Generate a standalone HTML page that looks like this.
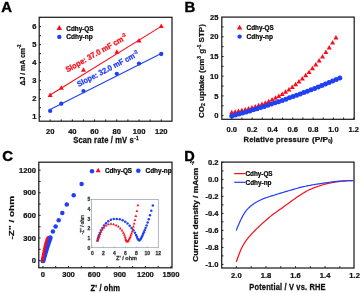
<!DOCTYPE html>
<html><head><meta charset="utf-8"><style>
html,body{margin:0;padding:0;background:#fff;overflow:hidden;width:361px;height:293px;}
svg{display:block;filter:blur(0.25px);}
text{font-family:"Liberation Sans", sans-serif;}
</style></head><body>
<svg width="361" height="293" viewBox="0 0 361 293">
<rect width="361" height="293" fill="#fff"/>
<text font-size="14.9" text-anchor="start" fill="#000" font-weight="bold" transform="translate(1.3 11.8)" stroke="#000" stroke-width="0.4">A</text>
<rect x="39.2" y="17.3" width="132.8" height="103.9" fill="none" stroke="#1e1e1e" stroke-width="1.25"/>
<line x1="50.15" y1="121.2" x2="50.15" y2="119.4" stroke="#1e1e1e" stroke-width="1"/>
<line x1="61.26" y1="121.2" x2="61.26" y2="119.4" stroke="#1e1e1e" stroke-width="1"/>
<line x1="72.37" y1="121.2" x2="72.37" y2="119.4" stroke="#1e1e1e" stroke-width="1"/>
<line x1="83.48" y1="121.2" x2="83.48" y2="119.4" stroke="#1e1e1e" stroke-width="1"/>
<line x1="94.59" y1="121.2" x2="94.59" y2="119.4" stroke="#1e1e1e" stroke-width="1"/>
<line x1="105.7" y1="121.2" x2="105.7" y2="119.4" stroke="#1e1e1e" stroke-width="1"/>
<line x1="116.81" y1="121.2" x2="116.81" y2="119.4" stroke="#1e1e1e" stroke-width="1"/>
<line x1="127.92" y1="121.2" x2="127.92" y2="119.4" stroke="#1e1e1e" stroke-width="1"/>
<line x1="139.03" y1="121.2" x2="139.03" y2="119.4" stroke="#1e1e1e" stroke-width="1"/>
<line x1="150.14" y1="121.2" x2="150.14" y2="119.4" stroke="#1e1e1e" stroke-width="1"/>
<line x1="161.25" y1="121.2" x2="161.25" y2="119.4" stroke="#1e1e1e" stroke-width="1"/>
<text font-size="7.6" text-anchor="middle" fill="#111" font-weight="bold" transform="translate(50.15 133.7) scale(1 1.02)" stroke="#111" stroke-width="0.24">20</text>
<text font-size="7.6" text-anchor="middle" fill="#111" font-weight="bold" transform="translate(72.37 133.7) scale(1 1.02)" stroke="#111" stroke-width="0.24">40</text>
<text font-size="7.6" text-anchor="middle" fill="#111" font-weight="bold" transform="translate(94.59 133.7) scale(1 1.02)" stroke="#111" stroke-width="0.24">60</text>
<text font-size="7.6" text-anchor="middle" fill="#111" font-weight="bold" transform="translate(116.81 133.7) scale(1 1.02)" stroke="#111" stroke-width="0.24">80</text>
<text font-size="7.6" text-anchor="middle" fill="#111" font-weight="bold" transform="translate(139.03 133.7) scale(1 1.02)" stroke="#111" stroke-width="0.24">100</text>
<text font-size="7.6" text-anchor="middle" fill="#111" font-weight="bold" transform="translate(161.25 133.7) scale(1 1.02)" stroke="#111" stroke-width="0.24">120</text>
<line x1="39.2" y1="116.7" x2="41" y2="116.7" stroke="#1e1e1e" stroke-width="1"/>
<line x1="39.2" y1="107.69" x2="41" y2="107.69" stroke="#1e1e1e" stroke-width="1"/>
<line x1="39.2" y1="98.68" x2="41" y2="98.68" stroke="#1e1e1e" stroke-width="1"/>
<line x1="39.2" y1="89.67" x2="41" y2="89.67" stroke="#1e1e1e" stroke-width="1"/>
<line x1="39.2" y1="80.66" x2="41" y2="80.66" stroke="#1e1e1e" stroke-width="1"/>
<line x1="39.2" y1="71.65" x2="41" y2="71.65" stroke="#1e1e1e" stroke-width="1"/>
<line x1="39.2" y1="62.64" x2="41" y2="62.64" stroke="#1e1e1e" stroke-width="1"/>
<line x1="39.2" y1="53.63" x2="41" y2="53.63" stroke="#1e1e1e" stroke-width="1"/>
<line x1="39.2" y1="44.62" x2="41" y2="44.62" stroke="#1e1e1e" stroke-width="1"/>
<line x1="39.2" y1="35.61" x2="41" y2="35.61" stroke="#1e1e1e" stroke-width="1"/>
<line x1="39.2" y1="26.6" x2="41" y2="26.6" stroke="#1e1e1e" stroke-width="1"/>
<line x1="39.2" y1="17.59" x2="41" y2="17.59" stroke="#1e1e1e" stroke-width="1"/>
<text font-size="7.6" text-anchor="end" fill="#111" font-weight="bold" transform="translate(36.4 119.3) scale(1 1.02)" stroke="#111" stroke-width="0.24">1</text>
<text font-size="7.6" text-anchor="end" fill="#111" font-weight="bold" transform="translate(36.4 101.28) scale(1 1.02)" stroke="#111" stroke-width="0.24">2</text>
<text font-size="7.6" text-anchor="end" fill="#111" font-weight="bold" transform="translate(36.4 83.26) scale(1 1.02)" stroke="#111" stroke-width="0.24">3</text>
<text font-size="7.6" text-anchor="end" fill="#111" font-weight="bold" transform="translate(36.4 65.24) scale(1 1.02)" stroke="#111" stroke-width="0.24">4</text>
<text font-size="7.6" text-anchor="end" fill="#111" font-weight="bold" transform="translate(36.4 47.22) scale(1 1.02)" stroke="#111" stroke-width="0.24">5</text>
<text font-size="7.6" text-anchor="end" fill="#111" font-weight="bold" transform="translate(36.4 29.2) scale(1 1.02)" stroke="#111" stroke-width="0.24">6</text>
<text font-size="7.6" text-anchor="start" fill="#111" font-weight="bold" transform="translate(73.2 143.4) scale(1 1.1)" textLength="60.5" lengthAdjust="spacing" stroke="#111" stroke-width="0.24">Scan rate / mV s</text>
<text font-size="4.8" text-anchor="start" fill="#111" font-weight="bold" transform="translate(134.3 139.6) scale(1 1.08)" stroke="#111" stroke-width="0.24">-1</text>
<text font-size="7.2" text-anchor="start" fill="#111" font-weight="bold" transform="translate(25.4 85.5) rotate(-90) scale(1 1.08)" textLength="37.5" lengthAdjust="spacingAndGlyphs" stroke="#111" stroke-width="0.24">&#916;J / mA cm</text>
<text font-size="4.6" text-anchor="start" fill="#111" font-weight="bold" transform="translate(20.8 48.6) rotate(-90) scale(1 1.08)" stroke="#111" stroke-width="0.24">-2</text>
<polyline points="50.15,95 161.25,26.4" fill="none" stroke="#fc0c18" stroke-width="1.1" stroke-linejoin="round" stroke-linecap="round"/>
<polyline points="50.15,109.5 161.25,53.6" fill="none" stroke="#2040f4" stroke-width="1.1" stroke-linejoin="round" stroke-linecap="round"/>
<path d="M50.15 92.38L52.65 96.88L47.65 96.88Z" fill="#fc0c18"/>
<path d="M61.26 85.17L63.76 89.67L58.76 89.67Z" fill="#fc0c18"/>
<path d="M83.48 67.15L85.98 71.65L80.98 71.65Z" fill="#fc0c18"/>
<path d="M116.81 49.13L119.31 53.63L114.31 53.63Z" fill="#fc0c18"/>
<path d="M139.03 37.96L141.53 42.46L136.53 42.46Z" fill="#fc0c18"/>
<path d="M161.25 23.54L163.75 28.04L158.75 28.04Z" fill="#fc0c18"/>
<circle cx="50.15" cy="110.93" r="2.15" fill="#2040f4"/>
<circle cx="61.26" cy="103.73" r="2.15" fill="#2040f4"/>
<circle cx="83.48" cy="91.11" r="2.15" fill="#2040f4"/>
<circle cx="116.81" cy="73.81" r="2.15" fill="#2040f4"/>
<circle cx="139.03" cy="63.54" r="2.15" fill="#2040f4"/>
<circle cx="161.25" cy="53.99" r="2.15" fill="#2040f4"/>
<path d="M59.3 24.93L62.05 29.88L56.55 29.88Z" fill="#fc0c18"/>
<text font-size="7.5" text-anchor="start" fill="#000" font-weight="bold" transform="translate(66.3 30.5)" textLength="27.2" lengthAdjust="spacingAndGlyphs" stroke="#000" stroke-width="0.24">Cdhy-QS</text>
<circle cx="59.3" cy="36.9" r="2.2" fill="#2040f4"/>
<text font-size="7.5" text-anchor="start" fill="#000" font-weight="bold" transform="translate(66.3 39.2)" textLength="26.4" lengthAdjust="spacingAndGlyphs" stroke="#000" stroke-width="0.24">Cdhy-np</text>
<text font-size="7.4" text-anchor="middle" fill="#fc0c18" font-weight="bold" transform="translate(97.6 55.6) rotate(-29.5) scale(1 1.08)" stroke="#fc0c18" stroke-width="0.24">Slope: 37.0 mF cm<tspan font-size="4.8" dy="-3">-2</tspan></text>
<text font-size="7.3" text-anchor="middle" fill="#2040f4" font-weight="bold" transform="translate(109 71.3) rotate(-27.5) scale(1 1.08)" stroke="#2040f4" stroke-width="0.24">Slope: 32.0 mF cm<tspan font-size="4.8" dy="-3">-2</tspan></text>
<text font-size="14.9" text-anchor="start" fill="#000" font-weight="bold" transform="translate(184.4 11.7)" stroke="#000" stroke-width="0.4">B</text>
<rect x="221.8" y="17.1" width="132.4" height="102.2" fill="none" stroke="#1e1e1e" stroke-width="1.25"/>
<line x1="231.75" y1="119.3" x2="231.75" y2="117.5" stroke="#1e1e1e" stroke-width="1"/>
<line x1="241.92" y1="119.3" x2="241.92" y2="117.5" stroke="#1e1e1e" stroke-width="1"/>
<line x1="252.08" y1="119.3" x2="252.08" y2="117.5" stroke="#1e1e1e" stroke-width="1"/>
<line x1="262.25" y1="119.3" x2="262.25" y2="117.5" stroke="#1e1e1e" stroke-width="1"/>
<line x1="272.42" y1="119.3" x2="272.42" y2="117.5" stroke="#1e1e1e" stroke-width="1"/>
<line x1="282.58" y1="119.3" x2="282.58" y2="117.5" stroke="#1e1e1e" stroke-width="1"/>
<line x1="292.75" y1="119.3" x2="292.75" y2="117.5" stroke="#1e1e1e" stroke-width="1"/>
<line x1="302.92" y1="119.3" x2="302.92" y2="117.5" stroke="#1e1e1e" stroke-width="1"/>
<line x1="313.09" y1="119.3" x2="313.09" y2="117.5" stroke="#1e1e1e" stroke-width="1"/>
<line x1="323.25" y1="119.3" x2="323.25" y2="117.5" stroke="#1e1e1e" stroke-width="1"/>
<line x1="333.42" y1="119.3" x2="333.42" y2="117.5" stroke="#1e1e1e" stroke-width="1"/>
<line x1="343.59" y1="119.3" x2="343.59" y2="117.5" stroke="#1e1e1e" stroke-width="1"/>
<line x1="353.75" y1="119.3" x2="353.75" y2="117.5" stroke="#1e1e1e" stroke-width="1"/>
<text font-size="7.6" text-anchor="middle" fill="#111" font-weight="bold" transform="translate(231.75 131.8) scale(1 1.02)" stroke="#111" stroke-width="0.24">0.0</text>
<text font-size="7.6" text-anchor="middle" fill="#111" font-weight="bold" transform="translate(252.08 131.8) scale(1 1.02)" stroke="#111" stroke-width="0.24">0.2</text>
<text font-size="7.6" text-anchor="middle" fill="#111" font-weight="bold" transform="translate(272.42 131.8) scale(1 1.02)" stroke="#111" stroke-width="0.24">0.4</text>
<text font-size="7.6" text-anchor="middle" fill="#111" font-weight="bold" transform="translate(292.75 131.8) scale(1 1.02)" stroke="#111" stroke-width="0.24">0.6</text>
<text font-size="7.6" text-anchor="middle" fill="#111" font-weight="bold" transform="translate(313.09 131.8) scale(1 1.02)" stroke="#111" stroke-width="0.24">0.8</text>
<text font-size="7.6" text-anchor="middle" fill="#111" font-weight="bold" transform="translate(333.42 131.8) scale(1 1.02)" stroke="#111" stroke-width="0.24">1.0</text>
<text font-size="7.6" text-anchor="middle" fill="#111" font-weight="bold" transform="translate(353.75 131.8) scale(1 1.02)" stroke="#111" stroke-width="0.24">1.2</text>
<line x1="221.8" y1="115.6" x2="223.6" y2="115.6" stroke="#1e1e1e" stroke-width="1"/>
<line x1="221.8" y1="105.75" x2="223.6" y2="105.75" stroke="#1e1e1e" stroke-width="1"/>
<line x1="221.8" y1="95.9" x2="223.6" y2="95.9" stroke="#1e1e1e" stroke-width="1"/>
<line x1="221.8" y1="86.05" x2="223.6" y2="86.05" stroke="#1e1e1e" stroke-width="1"/>
<line x1="221.8" y1="76.2" x2="223.6" y2="76.2" stroke="#1e1e1e" stroke-width="1"/>
<line x1="221.8" y1="66.35" x2="223.6" y2="66.35" stroke="#1e1e1e" stroke-width="1"/>
<line x1="221.8" y1="56.5" x2="223.6" y2="56.5" stroke="#1e1e1e" stroke-width="1"/>
<line x1="221.8" y1="46.65" x2="223.6" y2="46.65" stroke="#1e1e1e" stroke-width="1"/>
<line x1="221.8" y1="36.8" x2="223.6" y2="36.8" stroke="#1e1e1e" stroke-width="1"/>
<line x1="221.8" y1="26.95" x2="223.6" y2="26.95" stroke="#1e1e1e" stroke-width="1"/>
<text font-size="7.6" text-anchor="end" fill="#111" font-weight="bold" transform="translate(218.5 118.2) scale(1 1.02)" stroke="#111" stroke-width="0.24">0</text>
<text font-size="7.6" text-anchor="end" fill="#111" font-weight="bold" transform="translate(218.5 98.5) scale(1 1.02)" stroke="#111" stroke-width="0.24">5</text>
<text font-size="7.6" text-anchor="end" fill="#111" font-weight="bold" transform="translate(218.5 78.8) scale(1 1.02)" stroke="#111" stroke-width="0.24">10</text>
<text font-size="7.6" text-anchor="end" fill="#111" font-weight="bold" transform="translate(218.5 59.1) scale(1 1.02)" stroke="#111" stroke-width="0.24">15</text>
<text font-size="7.6" text-anchor="end" fill="#111" font-weight="bold" transform="translate(218.5 39.4) scale(1 1.02)" stroke="#111" stroke-width="0.24">20</text>
<text font-size="7.6" text-anchor="end" fill="#111" font-weight="bold" transform="translate(218.5 19.7) scale(1 1.02)" stroke="#111" stroke-width="0.24">25</text>
<text font-size="7.6" text-anchor="start" fill="#111" font-weight="bold" transform="translate(243.6 142.2) scale(1 1.05)" textLength="65.4" lengthAdjust="spacing" stroke="#111" stroke-width="0.24">Relative pressure</text>
<text font-size="6.3" text-anchor="start" fill="#111" font-weight="bold" transform="translate(312 142)" textLength="16" lengthAdjust="spacingAndGlyphs" stroke="#111" stroke-width="0.24">(P/P</text>
<text font-size="4.5" text-anchor="start" fill="#111" font-weight="bold" transform="translate(328.2 143)" stroke="#111" stroke-width="0.24">0</text>
<text font-size="6.3" text-anchor="start" fill="#111" font-weight="bold" transform="translate(330.6 142)" stroke="#111" stroke-width="0.24">)</text>
<text font-size="8" text-anchor="start" fill="#111" font-weight="bold" transform="translate(203.8 118) rotate(-90) scale(1 0.95)" stroke="#111" stroke-width="0.24">CO<tspan font-size="5.2" dy="1.5">2</tspan><tspan dy="-1.5"> uptake (cm</tspan><tspan font-size="4.8" dy="-3">3</tspan><tspan dy="3"> g</tspan><tspan font-size="4.8" dy="-3">-1</tspan><tspan dy="3"> STP)</tspan></text>
<path d="M231.75 109.78L234.25 114.28L229.25 114.28Z" fill="#fc0c18"/>
<path d="M235.11 109.17L237.61 113.67L232.61 113.67Z" fill="#fc0c18"/>
<path d="M238.47 108.51L240.97 113.01L235.97 113.01Z" fill="#fc0c18"/>
<path d="M241.84 107.77L244.34 112.27L239.34 112.27Z" fill="#fc0c18"/>
<path d="M245.2 106.96L247.7 111.46L242.7 111.46Z" fill="#fc0c18"/>
<path d="M248.56 106.07L251.06 110.57L246.06 110.57Z" fill="#fc0c18"/>
<path d="M251.92 105.09L254.42 109.59L249.42 109.59Z" fill="#fc0c18"/>
<path d="M255.28 104.02L257.78 108.52L252.78 108.52Z" fill="#fc0c18"/>
<path d="M258.64 102.85L261.14 107.35L256.14 107.35Z" fill="#fc0c18"/>
<path d="M262.01 101.57L264.51 106.07L259.51 106.07Z" fill="#fc0c18"/>
<path d="M265.37 100.19L267.87 104.69L262.87 104.69Z" fill="#fc0c18"/>
<path d="M268.73 98.68L271.23 103.18L266.23 103.18Z" fill="#fc0c18"/>
<path d="M272.09 97.06L274.59 101.56L269.59 101.56Z" fill="#fc0c18"/>
<path d="M275.45 95.31L277.95 99.81L272.95 99.81Z" fill="#fc0c18"/>
<path d="M278.81 93.42L281.31 97.92L276.31 97.92Z" fill="#fc0c18"/>
<path d="M282.18 91.39L284.68 95.89L279.68 95.89Z" fill="#fc0c18"/>
<path d="M285.54 89.22L288.04 93.72L283.04 93.72Z" fill="#fc0c18"/>
<path d="M288.9 86.89L291.4 91.39L286.4 91.39Z" fill="#fc0c18"/>
<path d="M292.26 84.41L294.76 88.91L289.76 88.91Z" fill="#fc0c18"/>
<path d="M295.62 81.76L298.12 86.26L293.12 86.26Z" fill="#fc0c18"/>
<path d="M298.98 78.94L301.48 83.44L296.48 83.44Z" fill="#fc0c18"/>
<path d="M302.35 75.95L304.85 80.45L299.85 80.45Z" fill="#fc0c18"/>
<path d="M305.71 72.77L308.21 77.27L303.21 77.27Z" fill="#fc0c18"/>
<path d="M309.07 69.4L311.57 73.9L306.57 73.9Z" fill="#fc0c18"/>
<path d="M312.43 65.84L314.93 70.34L309.93 70.34Z" fill="#fc0c18"/>
<path d="M315.79 62.08L318.29 66.58L313.29 66.58Z" fill="#fc0c18"/>
<path d="M319.15 58.11L321.65 62.61L316.65 62.61Z" fill="#fc0c18"/>
<path d="M322.52 53.93L325.02 58.43L320.02 58.43Z" fill="#fc0c18"/>
<path d="M325.88 49.54L328.38 54.04L323.38 54.04Z" fill="#fc0c18"/>
<path d="M329.24 44.91L331.74 49.41L326.74 49.41Z" fill="#fc0c18"/>
<path d="M332.6 40.06L335.1 44.56L330.1 44.56Z" fill="#fc0c18"/>
<path d="M335.96 34.97L338.46 39.47L333.46 39.47Z" fill="#fc0c18"/>
<circle cx="231.75" cy="116.07" r="2.5" fill="#2040f4"/>
<circle cx="235.35" cy="115.07" r="2.5" fill="#2040f4"/>
<circle cx="238.96" cy="114.05" r="2.5" fill="#2040f4"/>
<circle cx="242.56" cy="113.02" r="2.5" fill="#2040f4"/>
<circle cx="246.16" cy="111.96" r="2.5" fill="#2040f4"/>
<circle cx="249.76" cy="110.89" r="2.5" fill="#2040f4"/>
<circle cx="253.37" cy="109.79" r="2.5" fill="#2040f4"/>
<circle cx="256.97" cy="108.68" r="2.5" fill="#2040f4"/>
<circle cx="260.57" cy="107.55" r="2.5" fill="#2040f4"/>
<circle cx="264.17" cy="106.41" r="2.5" fill="#2040f4"/>
<circle cx="267.78" cy="105.24" r="2.5" fill="#2040f4"/>
<circle cx="271.38" cy="104.05" r="2.5" fill="#2040f4"/>
<circle cx="274.98" cy="102.85" r="2.5" fill="#2040f4"/>
<circle cx="278.58" cy="101.63" r="2.5" fill="#2040f4"/>
<circle cx="282.19" cy="100.39" r="2.5" fill="#2040f4"/>
<circle cx="285.79" cy="99.13" r="2.5" fill="#2040f4"/>
<circle cx="289.39" cy="97.85" r="2.5" fill="#2040f4"/>
<circle cx="292.99" cy="96.55" r="2.5" fill="#2040f4"/>
<circle cx="296.6" cy="95.24" r="2.5" fill="#2040f4"/>
<circle cx="300.2" cy="93.9" r="2.5" fill="#2040f4"/>
<circle cx="303.8" cy="92.55" r="2.5" fill="#2040f4"/>
<circle cx="307.4" cy="91.18" r="2.5" fill="#2040f4"/>
<circle cx="311.01" cy="89.79" r="2.5" fill="#2040f4"/>
<circle cx="314.61" cy="88.38" r="2.5" fill="#2040f4"/>
<circle cx="318.21" cy="86.96" r="2.5" fill="#2040f4"/>
<circle cx="321.81" cy="85.51" r="2.5" fill="#2040f4"/>
<circle cx="325.42" cy="84.05" r="2.5" fill="#2040f4"/>
<circle cx="329.02" cy="82.57" r="2.5" fill="#2040f4"/>
<circle cx="332.62" cy="81.06" r="2.5" fill="#2040f4"/>
<circle cx="336.22" cy="79.55" r="2.5" fill="#2040f4"/>
<circle cx="339.83" cy="78.01" r="2.5" fill="#2040f4"/>
<path d="M239.6 24.63L242.35 29.58L236.85 29.58Z" fill="#fc0c18"/>
<text font-size="7.5" text-anchor="start" fill="#000" font-weight="bold" transform="translate(246.6 30.1)" textLength="27.2" lengthAdjust="spacingAndGlyphs" stroke="#000" stroke-width="0.24">Cdhy-QS</text>
<circle cx="239.6" cy="36.6" r="2.2" fill="#2040f4"/>
<text font-size="7.5" text-anchor="start" fill="#000" font-weight="bold" transform="translate(246.6 38.9)" textLength="26.4" lengthAdjust="spacingAndGlyphs" stroke="#000" stroke-width="0.24">Cdhy-np</text>
<text font-size="14.9" text-anchor="start" fill="#000" font-weight="bold" transform="translate(2.3 160.5)" stroke="#000" stroke-width="0.4">C</text>
<rect x="38.8" y="162.2" width="133.2" height="105.6" fill="none" stroke="#1e1e1e" stroke-width="1.25"/>
<line x1="42.9" y1="267.8" x2="42.9" y2="266" stroke="#1e1e1e" stroke-width="1"/>
<line x1="55.71" y1="267.8" x2="55.71" y2="266" stroke="#1e1e1e" stroke-width="1"/>
<line x1="68.52" y1="267.8" x2="68.52" y2="266" stroke="#1e1e1e" stroke-width="1"/>
<line x1="81.33" y1="267.8" x2="81.33" y2="266" stroke="#1e1e1e" stroke-width="1"/>
<line x1="94.14" y1="267.8" x2="94.14" y2="266" stroke="#1e1e1e" stroke-width="1"/>
<line x1="106.95" y1="267.8" x2="106.95" y2="266" stroke="#1e1e1e" stroke-width="1"/>
<line x1="119.76" y1="267.8" x2="119.76" y2="266" stroke="#1e1e1e" stroke-width="1"/>
<line x1="132.57" y1="267.8" x2="132.57" y2="266" stroke="#1e1e1e" stroke-width="1"/>
<line x1="145.38" y1="267.8" x2="145.38" y2="266" stroke="#1e1e1e" stroke-width="1"/>
<line x1="158.19" y1="267.8" x2="158.19" y2="266" stroke="#1e1e1e" stroke-width="1"/>
<line x1="171" y1="267.8" x2="171" y2="266" stroke="#1e1e1e" stroke-width="1"/>
<text font-size="7.6" text-anchor="middle" fill="#111" font-weight="bold" transform="translate(42.9 277.4) scale(1 1.02)" stroke="#111" stroke-width="0.24">0</text>
<text font-size="7.6" text-anchor="middle" fill="#111" font-weight="bold" transform="translate(68.52 277.4) scale(1 1.02)" stroke="#111" stroke-width="0.24">300</text>
<text font-size="7.6" text-anchor="middle" fill="#111" font-weight="bold" transform="translate(94.14 277.4) scale(1 1.02)" stroke="#111" stroke-width="0.24">600</text>
<text font-size="7.6" text-anchor="middle" fill="#111" font-weight="bold" transform="translate(119.76 277.4) scale(1 1.02)" stroke="#111" stroke-width="0.24">900</text>
<text font-size="7.6" text-anchor="middle" fill="#111" font-weight="bold" transform="translate(145.38 277.4) scale(1 1.02)" stroke="#111" stroke-width="0.24">1200</text>
<text font-size="7.6" text-anchor="middle" fill="#111" font-weight="bold" transform="translate(171 277.4) scale(1 1.02)" stroke="#111" stroke-width="0.24">1500</text>
<line x1="38.8" y1="260.6" x2="40.6" y2="260.6" stroke="#1e1e1e" stroke-width="1"/>
<line x1="38.8" y1="249.3" x2="40.6" y2="249.3" stroke="#1e1e1e" stroke-width="1"/>
<line x1="38.8" y1="238" x2="40.6" y2="238" stroke="#1e1e1e" stroke-width="1"/>
<line x1="38.8" y1="226.7" x2="40.6" y2="226.7" stroke="#1e1e1e" stroke-width="1"/>
<line x1="38.8" y1="215.4" x2="40.6" y2="215.4" stroke="#1e1e1e" stroke-width="1"/>
<line x1="38.8" y1="204.1" x2="40.6" y2="204.1" stroke="#1e1e1e" stroke-width="1"/>
<line x1="38.8" y1="192.8" x2="40.6" y2="192.8" stroke="#1e1e1e" stroke-width="1"/>
<line x1="38.8" y1="181.5" x2="40.6" y2="181.5" stroke="#1e1e1e" stroke-width="1"/>
<line x1="38.8" y1="170.2" x2="40.6" y2="170.2" stroke="#1e1e1e" stroke-width="1"/>
<text font-size="7.6" text-anchor="end" fill="#111" font-weight="bold" transform="translate(36 263.2) scale(1 1.02)" stroke="#111" stroke-width="0.24">0</text>
<text font-size="7.6" text-anchor="end" fill="#111" font-weight="bold" transform="translate(36 240.6) scale(1 1.02)" stroke="#111" stroke-width="0.24">300</text>
<text font-size="7.6" text-anchor="end" fill="#111" font-weight="bold" transform="translate(36 218) scale(1 1.02)" stroke="#111" stroke-width="0.24">600</text>
<text font-size="7.6" text-anchor="end" fill="#111" font-weight="bold" transform="translate(36 195.4) scale(1 1.02)" stroke="#111" stroke-width="0.24">900</text>
<text font-size="7.6" text-anchor="end" fill="#111" font-weight="bold" transform="translate(36 172.8) scale(1 1.02)" stroke="#111" stroke-width="0.24">1200</text>
<text font-size="7.6" text-anchor="start" fill="#111" font-weight="bold" transform="translate(90.6 290.9) scale(1 1.1)" textLength="29.5" lengthAdjust="spacing" stroke="#111" stroke-width="0.24">Z' / ohm</text>
<text font-size="8.1" text-anchor="start" fill="#111" font-weight="bold" transform="translate(13.8 239.5) rotate(-90) scale(1 0.86)" textLength="43.5" lengthAdjust="spacingAndGlyphs" stroke="#111" stroke-width="0.24">-Z'' / ohm</text>
<circle cx="43" cy="260.8" r="2.5" fill="#2040f4"/>
<circle cx="43.58" cy="258.68" r="2.5" fill="#2040f4"/>
<circle cx="44.18" cy="256.56" r="2.5" fill="#2040f4"/>
<circle cx="44.78" cy="254.45" r="2.5" fill="#2040f4"/>
<circle cx="45.4" cy="252.33" r="2.5" fill="#2040f4"/>
<circle cx="46.03" cy="250.23" r="2.5" fill="#2040f4"/>
<circle cx="46.68" cy="248.12" r="2.5" fill="#2040f4"/>
<circle cx="47.34" cy="246.03" r="2.5" fill="#2040f4"/>
<circle cx="48.02" cy="243.93" r="2.5" fill="#2040f4"/>
<circle cx="48.72" cy="241.85" r="2.5" fill="#2040f4"/>
<circle cx="49.44" cy="239.77" r="2.5" fill="#2040f4"/>
<circle cx="50.18" cy="237.7" r="2.5" fill="#2040f4"/>
<circle cx="52.9" cy="231.5" r="2.25" fill="#2040f4"/>
<circle cx="55.6" cy="226.6" r="2.25" fill="#2040f4"/>
<circle cx="58.7" cy="220.3" r="2.25" fill="#2040f4"/>
<circle cx="62.3" cy="213.1" r="2.25" fill="#2040f4"/>
<circle cx="66.8" cy="204.5" r="2.25" fill="#2040f4"/>
<circle cx="73.7" cy="195.3" r="2.25" fill="#2040f4"/>
<circle cx="81.6" cy="184.1" r="2.25" fill="#2040f4"/>
<circle cx="92" cy="171.3" r="2.25" fill="#2040f4"/>
<path d="M42.5 258.46L44.3 261.7L40.7 261.7Z" fill="#fc0c18"/>
<path d="M42.73 256.67L44.53 259.91L40.93 259.91Z" fill="#fc0c18"/>
<path d="M42.96 254.89L44.76 258.13L41.16 258.13Z" fill="#fc0c18"/>
<path d="M43.2 253.1L45 256.34L41.4 256.34Z" fill="#fc0c18"/>
<path d="M43.46 251.32L45.26 254.56L41.66 254.56Z" fill="#fc0c18"/>
<path d="M43.74 249.54L45.54 252.78L41.94 252.78Z" fill="#fc0c18"/>
<path d="M44.05 247.77L45.85 251.01L42.25 251.01Z" fill="#fc0c18"/>
<path d="M44.39 246L46.19 249.24L42.59 249.24Z" fill="#fc0c18"/>
<path d="M44.77 244.24L46.57 247.48L42.97 247.48Z" fill="#fc0c18"/>
<path d="M45.18 242.49L46.98 245.73L43.38 245.73Z" fill="#fc0c18"/>
<path d="M45.65 240.75L47.45 243.99L43.85 243.99Z" fill="#fc0c18"/>
<path d="M46.16 239.03L47.96 242.27L44.36 242.27Z" fill="#fc0c18"/>
<path d="M46.73 237.32L48.53 240.56L44.93 240.56Z" fill="#fc0c18"/>
<path d="M47.35 235.63L49.15 238.87L45.55 238.87Z" fill="#fc0c18"/>
<path d="M98.2 167.7L100.7 172.2L95.7 172.2Z" fill="#fc0c18"/>
<text font-size="7.5" text-anchor="start" fill="#000" font-weight="bold" transform="translate(104.9 173)" textLength="27.2" lengthAdjust="spacingAndGlyphs" stroke="#000" stroke-width="0.24">Cdhy-QS</text>
<circle cx="138.3" cy="170.7" r="2.3" fill="#2040f4"/>
<text font-size="7.5" text-anchor="start" fill="#000" font-weight="bold" transform="translate(145.5 173)" textLength="26.2" lengthAdjust="spacingAndGlyphs" stroke="#000" stroke-width="0.24">Cdhy-np</text>
<rect x="91.5" y="199.5" width="66.8" height="48.2" fill="#fff" stroke="#8c9ab0" stroke-width="0.7"/>
<line x1="92.3" y1="247.7" x2="92.3" y2="246.5" stroke="#7f8fa6" stroke-width="0.6"/>
<line x1="103.3" y1="247.7" x2="103.3" y2="246.5" stroke="#7f8fa6" stroke-width="0.6"/>
<line x1="114.3" y1="247.7" x2="114.3" y2="246.5" stroke="#7f8fa6" stroke-width="0.6"/>
<line x1="125.3" y1="247.7" x2="125.3" y2="246.5" stroke="#7f8fa6" stroke-width="0.6"/>
<line x1="136.3" y1="247.7" x2="136.3" y2="246.5" stroke="#7f8fa6" stroke-width="0.6"/>
<line x1="147.3" y1="247.7" x2="147.3" y2="246.5" stroke="#7f8fa6" stroke-width="0.6"/>
<text font-size="5" text-anchor="middle" fill="#333" font-weight="bold" transform="translate(92.3 254.6) scale(1 1.08)" stroke="#333" stroke-width="0.24">0</text>
<text font-size="5" text-anchor="middle" fill="#333" font-weight="bold" transform="translate(103.3 254.6) scale(1 1.08)" stroke="#333" stroke-width="0.24">2</text>
<text font-size="5" text-anchor="middle" fill="#333" font-weight="bold" transform="translate(114.3 254.6) scale(1 1.08)" stroke="#333" stroke-width="0.24">4</text>
<text font-size="5" text-anchor="middle" fill="#333" font-weight="bold" transform="translate(125.3 254.6) scale(1 1.08)" stroke="#333" stroke-width="0.24">6</text>
<text font-size="5" text-anchor="middle" fill="#333" font-weight="bold" transform="translate(136.3 254.6) scale(1 1.08)" stroke="#333" stroke-width="0.24">8</text>
<text font-size="5" text-anchor="middle" fill="#333" font-weight="bold" transform="translate(147.3 254.6) scale(1 1.08)" stroke="#333" stroke-width="0.24">10</text>
<text font-size="5" text-anchor="middle" fill="#333" font-weight="bold" transform="translate(158.3 254.6) scale(1 1.08)" stroke="#333" stroke-width="0.24">12</text>
<text font-size="5" text-anchor="end" fill="#333" font-weight="bold" transform="translate(90.2 249.6) scale(1 1.08)" stroke="#333" stroke-width="0.24">0</text>
<text font-size="5" text-anchor="end" fill="#333" font-weight="bold" transform="translate(90.2 239.9) scale(1 1.08)" stroke="#333" stroke-width="0.24">1</text>
<text font-size="5" text-anchor="end" fill="#333" font-weight="bold" transform="translate(90.2 230.2) scale(1 1.08)" stroke="#333" stroke-width="0.24">2</text>
<text font-size="5" text-anchor="end" fill="#333" font-weight="bold" transform="translate(90.2 220.5) scale(1 1.08)" stroke="#333" stroke-width="0.24">3</text>
<text font-size="5" text-anchor="end" fill="#333" font-weight="bold" transform="translate(90.2 210.8) scale(1 1.08)" stroke="#333" stroke-width="0.24">4</text>
<text font-size="5" text-anchor="end" fill="#333" font-weight="bold" transform="translate(90.2 201.1) scale(1 1.08)" stroke="#333" stroke-width="0.24">5</text>
<text font-size="5.4" text-anchor="start" fill="#333" font-weight="bold" transform="translate(116 260.2) scale(1 1.08)" textLength="21" lengthAdjust="spacingAndGlyphs" stroke="#333" stroke-width="0.24">Z' / ohm</text>
<text font-size="5.4" text-anchor="start" fill="#333" font-weight="bold" transform="translate(84.4 234.2) rotate(-90) scale(1 1.08)" textLength="19" lengthAdjust="spacingAndGlyphs" stroke="#333" stroke-width="0.24">-Z'' / ohm</text>
<circle cx="97.5" cy="240.4" r="1.25" fill="#2040f4"/>
<circle cx="97.87" cy="238.8" r="1.25" fill="#2040f4"/>
<circle cx="98.33" cy="237.13" r="1.25" fill="#2040f4"/>
<circle cx="98.95" cy="235.21" r="1.25" fill="#2040f4"/>
<circle cx="99.8" cy="232.98" r="1.25" fill="#2040f4"/>
<circle cx="100.94" cy="230.48" r="1.25" fill="#2040f4"/>
<circle cx="102.37" cy="227.92" r="1.25" fill="#2040f4"/>
<circle cx="104.05" cy="225.44" r="1.25" fill="#2040f4"/>
<circle cx="105.97" cy="223.14" r="1.25" fill="#2040f4"/>
<circle cx="108.23" cy="221.18" r="1.25" fill="#2040f4"/>
<circle cx="110.88" cy="219.78" r="1.25" fill="#2040f4"/>
<circle cx="113.77" cy="219.03" r="1.25" fill="#2040f4"/>
<circle cx="116.77" cy="218.89" r="1.25" fill="#2040f4"/>
<circle cx="119.74" cy="219.26" r="1.25" fill="#2040f4"/>
<circle cx="122.58" cy="220.22" r="1.25" fill="#2040f4"/>
<circle cx="125.17" cy="221.72" r="1.25" fill="#2040f4"/>
<circle cx="127.52" cy="223.58" r="1.25" fill="#2040f4"/>
<circle cx="129.65" cy="225.69" r="1.25" fill="#2040f4"/>
<circle cx="131.59" cy="227.96" r="1.25" fill="#2040f4"/>
<circle cx="133.37" cy="230.3" r="1.25" fill="#2040f4"/>
<circle cx="134.9" cy="232.65" r="1.25" fill="#2040f4"/>
<circle cx="136.04" cy="234.89" r="1.25" fill="#2040f4"/>
<circle cx="136.85" cy="236.84" r="1.25" fill="#2040f4"/>
<circle cx="137.52" cy="238.44" r="1.25" fill="#2040f4"/>
<circle cx="138.23" cy="239.72" r="1.25" fill="#2040f4"/>
<circle cx="139.3" cy="240.38" r="1.25" fill="#2040f4"/>
<circle cx="140.3" cy="239.58" r="1.25" fill="#2040f4"/>
<circle cx="141.03" cy="238.42" r="1.25" fill="#2040f4"/>
<circle cx="141.71" cy="237.1" r="1.25" fill="#2040f4"/>
<circle cx="142.4" cy="235.65" r="1.25" fill="#2040f4"/>
<circle cx="143.13" cy="234.04" r="1.25" fill="#2040f4"/>
<circle cx="143.89" cy="232.25" r="1.25" fill="#2040f4"/>
<circle cx="144.71" cy="230.24" r="1.25" fill="#2040f4"/>
<circle cx="145.59" cy="227.99" r="1.25" fill="#2040f4"/>
<circle cx="146.58" cy="225.43" r="1.25" fill="#2040f4"/>
<circle cx="147.64" cy="222.52" r="1.25" fill="#2040f4"/>
<circle cx="148.78" cy="219.17" r="1.25" fill="#2040f4"/>
<circle cx="149.98" cy="215.28" r="1.25" fill="#2040f4"/>
<circle cx="151.29" cy="210.77" r="1.25" fill="#2040f4"/>
<circle cx="152.84" cy="205.52" r="1.25" fill="#2040f4"/>
<path d="M97.5 238.89L98.9 241.41L96.1 241.41Z" fill="#fc0c18"/>
<path d="M98.07 237.5L99.47 240.02L96.67 240.02Z" fill="#fc0c18"/>
<path d="M98.65 236.04L100.05 238.56L97.25 238.56Z" fill="#fc0c18"/>
<path d="M99.3 234.38L100.7 236.9L97.9 236.9Z" fill="#fc0c18"/>
<path d="M100.09 232.47L101.49 234.99L98.69 234.99Z" fill="#fc0c18"/>
<path d="M101.1 230.31L102.5 232.83L99.7 232.83Z" fill="#fc0c18"/>
<path d="M102.38 228.05L103.78 230.57L100.98 230.57Z" fill="#fc0c18"/>
<path d="M103.98 225.91L105.38 228.43L102.58 228.43Z" fill="#fc0c18"/>
<path d="M105.95 224.08L107.35 226.6L104.55 226.6Z" fill="#fc0c18"/>
<path d="M108.31 222.78L109.71 225.3L106.91 225.3Z" fill="#fc0c18"/>
<path d="M110.94 222.28L112.34 224.8L109.54 224.8Z" fill="#fc0c18"/>
<path d="M113.61 222.67L115.01 225.19L112.21 225.19Z" fill="#fc0c18"/>
<path d="M116.12 223.64L117.52 226.16L114.72 226.16Z" fill="#fc0c18"/>
<path d="M118.39 225.09L119.79 227.61L116.99 227.61Z" fill="#fc0c18"/>
<path d="M120.34 226.94L121.74 229.46L118.94 229.46Z" fill="#fc0c18"/>
<path d="M122.04 228.98L123.44 231.5L120.64 231.5Z" fill="#fc0c18"/>
<path d="M123.43 231.14L124.83 233.66L122.03 233.66Z" fill="#fc0c18"/>
<path d="M124.37 233.32L125.77 235.84L122.97 235.84Z" fill="#fc0c18"/>
<path d="M124.99 235.31L126.39 237.83L123.59 237.83Z" fill="#fc0c18"/>
<path d="M125.47 237.01L126.87 239.53L124.07 239.53Z" fill="#fc0c18"/>
<path d="M125.93 238.42L127.33 240.94L124.53 240.94Z" fill="#fc0c18"/>
<path d="M126.49 239.61L127.89 242.13L125.09 242.13Z" fill="#fc0c18"/>
<path d="M127.5 239.99L128.9 242.51L126.1 242.51Z" fill="#fc0c18"/>
<path d="M128.33 239.12L129.73 241.64L126.93 241.64Z" fill="#fc0c18"/>
<path d="M129 238.02L130.4 240.54L127.6 240.54Z" fill="#fc0c18"/>
<path d="M129.62 236.77L131.02 239.29L128.22 239.29Z" fill="#fc0c18"/>
<path d="M130.25 235.38L131.65 237.9L128.85 237.9Z" fill="#fc0c18"/>
<path d="M130.9 233.82L132.3 236.34L129.5 236.34Z" fill="#fc0c18"/>
<path d="M131.55 232.06L132.95 234.58L130.15 234.58Z" fill="#fc0c18"/>
<path d="M132.2 230.04L133.6 232.56L130.8 232.56Z" fill="#fc0c18"/>
<path d="M132.83 227.74L134.23 230.26L131.43 230.26Z" fill="#fc0c18"/>
<path d="M133.47 225.08L134.87 227.6L132.07 227.6Z" fill="#fc0c18"/>
<path d="M134.16 222.02L135.56 224.54L132.76 224.54Z" fill="#fc0c18"/>
<path d="M134.95 218.49L136.35 221.01L133.55 221.01Z" fill="#fc0c18"/>
<path d="M135.89 214.38L137.29 216.9L134.49 216.9Z" fill="#fc0c18"/>
<path d="M136.93 209.54L138.33 212.06L135.53 212.06Z" fill="#fc0c18"/>
<path d="M137.94 203.78L139.34 206.3L136.54 206.3Z" fill="#fc0c18"/>
<text font-size="14.5" text-anchor="start" fill="#000" font-weight="bold" transform="translate(184.2 161.2)" stroke="#000" stroke-width="0.4">D</text>
<rect x="221.7" y="162.1" width="132.3" height="105.9" fill="none" stroke="#1e1e1e" stroke-width="1.25"/>
<line x1="236.4" y1="268" x2="236.4" y2="266.2" stroke="#1e1e1e" stroke-width="1"/>
<line x1="251.18" y1="268" x2="251.18" y2="266.2" stroke="#1e1e1e" stroke-width="1"/>
<line x1="265.96" y1="268" x2="265.96" y2="266.2" stroke="#1e1e1e" stroke-width="1"/>
<line x1="280.74" y1="268" x2="280.74" y2="266.2" stroke="#1e1e1e" stroke-width="1"/>
<line x1="295.52" y1="268" x2="295.52" y2="266.2" stroke="#1e1e1e" stroke-width="1"/>
<line x1="310.3" y1="268" x2="310.3" y2="266.2" stroke="#1e1e1e" stroke-width="1"/>
<line x1="325.08" y1="268" x2="325.08" y2="266.2" stroke="#1e1e1e" stroke-width="1"/>
<line x1="339.86" y1="268" x2="339.86" y2="266.2" stroke="#1e1e1e" stroke-width="1"/>
<text font-size="7.6" text-anchor="middle" fill="#111" font-weight="bold" transform="translate(236.4 277.5) scale(1 1.02)" stroke="#111" stroke-width="0.24">2.0</text>
<text font-size="7.6" text-anchor="middle" fill="#111" font-weight="bold" transform="translate(265.96 277.5) scale(1 1.02)" stroke="#111" stroke-width="0.24">1.8</text>
<text font-size="7.6" text-anchor="middle" fill="#111" font-weight="bold" transform="translate(295.52 277.5) scale(1 1.02)" stroke="#111" stroke-width="0.24">1.6</text>
<text font-size="7.6" text-anchor="middle" fill="#111" font-weight="bold" transform="translate(325.08 277.5) scale(1 1.02)" stroke="#111" stroke-width="0.24">1.4</text>
<text font-size="7.6" text-anchor="middle" fill="#111" font-weight="bold" transform="translate(354.64 277.5) scale(1 1.02)" stroke="#111" stroke-width="0.24">1.2</text>
<line x1="221.7" y1="162.4" x2="223.5" y2="162.4" stroke="#1e1e1e" stroke-width="1"/>
<line x1="221.7" y1="170.9" x2="223.5" y2="170.9" stroke="#1e1e1e" stroke-width="1"/>
<line x1="221.7" y1="179.4" x2="223.5" y2="179.4" stroke="#1e1e1e" stroke-width="1"/>
<line x1="221.7" y1="187.9" x2="223.5" y2="187.9" stroke="#1e1e1e" stroke-width="1"/>
<line x1="221.7" y1="196.4" x2="223.5" y2="196.4" stroke="#1e1e1e" stroke-width="1"/>
<line x1="221.7" y1="204.9" x2="223.5" y2="204.9" stroke="#1e1e1e" stroke-width="1"/>
<line x1="221.7" y1="213.4" x2="223.5" y2="213.4" stroke="#1e1e1e" stroke-width="1"/>
<line x1="221.7" y1="221.9" x2="223.5" y2="221.9" stroke="#1e1e1e" stroke-width="1"/>
<line x1="221.7" y1="230.4" x2="223.5" y2="230.4" stroke="#1e1e1e" stroke-width="1"/>
<line x1="221.7" y1="238.9" x2="223.5" y2="238.9" stroke="#1e1e1e" stroke-width="1"/>
<line x1="221.7" y1="247.4" x2="223.5" y2="247.4" stroke="#1e1e1e" stroke-width="1"/>
<line x1="221.7" y1="255.9" x2="223.5" y2="255.9" stroke="#1e1e1e" stroke-width="1"/>
<line x1="221.7" y1="264.4" x2="223.5" y2="264.4" stroke="#1e1e1e" stroke-width="1"/>
<text font-size="7.6" text-anchor="end" fill="#111" font-weight="bold" transform="translate(218.6 165) scale(1 1.02)" stroke="#111" stroke-width="0.24">0.2</text>
<text font-size="7.6" text-anchor="end" fill="#111" font-weight="bold" transform="translate(218.6 182) scale(1 1.02)" stroke="#111" stroke-width="0.24">0.0</text>
<text font-size="7.6" text-anchor="end" fill="#111" font-weight="bold" transform="translate(218.6 199) scale(1 1.02)" stroke="#111" stroke-width="0.24">-0.2</text>
<text font-size="7.6" text-anchor="end" fill="#111" font-weight="bold" transform="translate(218.6 216) scale(1 1.02)" stroke="#111" stroke-width="0.24">-0.4</text>
<text font-size="7.6" text-anchor="end" fill="#111" font-weight="bold" transform="translate(218.6 233) scale(1 1.02)" stroke="#111" stroke-width="0.24">-0.6</text>
<text font-size="7.6" text-anchor="end" fill="#111" font-weight="bold" transform="translate(218.6 250) scale(1 1.02)" stroke="#111" stroke-width="0.24">-0.8</text>
<text font-size="7.6" text-anchor="end" fill="#111" font-weight="bold" transform="translate(218.6 267) scale(1 1.02)" stroke="#111" stroke-width="0.24">-1.0</text>
<text font-size="7.5" text-anchor="start" fill="#111" font-weight="bold" transform="translate(249.3 290.3) scale(1 1.1)" textLength="76.3" lengthAdjust="spacing" stroke="#111" stroke-width="0.24">Potential / V vs. RHE</text>
<text font-size="7.4" text-anchor="start" fill="#111" font-weight="bold" transform="translate(198 261.8) rotate(-90) scale(1 1.08)" textLength="94" lengthAdjust="spacingAndGlyphs" stroke="#111" stroke-width="0.24">Current density / mAcm</text>
<text font-size="4.6" text-anchor="start" fill="#111" font-weight="bold" transform="translate(193.9 164.9) rotate(-90) scale(1 1.08)" stroke="#111" stroke-width="0.24">-2</text>
<polyline points="236.4,261.5 237.38,258.69 238.37,255.99 239.35,253.42 240.34,251 241.32,248.77 242.31,246.74 243.29,244.94 244.28,243.32 245.26,241.82 246.25,240.43 247.23,239.13 248.22,237.9 249.2,236.73 250.19,235.58 251.17,234.46 252.16,233.35 253.14,232.29 254.13,231.26 255.11,230.27 256.1,229.31 257.08,228.37 258.07,227.44 259.05,226.51 260.04,225.59 261.02,224.67 262.01,223.76 262.99,222.86 263.98,221.97 264.96,221.09 265.95,220.22 266.93,219.37 267.92,218.53 268.9,217.7 269.89,216.9 270.87,216.1 271.86,215.33 272.84,214.58 273.83,213.85 274.81,213.12 275.79,212.41 276.78,211.71 277.76,211 278.75,210.3 279.73,209.6 280.72,208.89 281.7,208.18 282.69,207.46 283.67,206.75 284.66,206.04 285.64,205.33 286.63,204.62 287.61,203.91 288.6,203.2 289.58,202.5 290.57,201.79 291.55,201.08 292.54,200.36 293.52,199.63 294.51,198.92 295.49,198.21 296.48,197.51 297.46,196.82 298.45,196.16 299.43,195.52 300.42,194.89 301.4,194.26 302.39,193.64 303.37,193.03 304.36,192.44 305.34,191.87 306.33,191.32 307.31,190.8 308.3,190.3 309.28,189.83 310.27,189.38 311.25,188.94 312.24,188.51 313.22,188.11 314.21,187.71 315.19,187.33 316.17,186.97 317.16,186.62 318.14,186.28 319.13,185.95 320.11,185.62 321.1,185.31 322.08,185.01 323.07,184.71 324.05,184.44 325.04,184.18 326.02,183.93 327.01,183.71 327.99,183.49 328.98,183.27 329.96,183.06 330.95,182.85 331.93,182.66 332.92,182.47 333.9,182.29 334.89,182.12 335.87,181.96 336.86,181.81 337.84,181.68 338.83,181.56 339.81,181.46 340.8,181.36 341.78,181.26 342.77,181.17 343.75,181.07 344.74,180.99 345.72,180.9 346.71,180.83 347.69,180.76 348.68,180.69 349.66,180.63 350.65,180.59 351.63,180.55 352.62,180.52 353.6,180.5" fill="none" stroke="#fc0c18" stroke-width="1.2" stroke-linejoin="round" stroke-linecap="round"/>
<polyline points="236.4,230.1 237.38,227.59 238.37,225.2 239.35,222.93 240.34,220.83 241.32,218.84 242.31,216.89 243.29,215.04 244.28,213.33 245.26,211.83 246.25,210.58 247.23,209.46 248.22,208.42 249.2,207.46 250.19,206.57 251.17,205.75 252.16,204.98 253.14,204.26 254.13,203.58 255.11,202.94 256.1,202.33 257.08,201.76 258.07,201.21 259.05,200.7 260.04,200.22 261.02,199.76 262.01,199.32 262.99,198.91 263.98,198.52 264.96,198.15 265.95,197.8 266.93,197.45 267.92,197.12 268.9,196.8 269.89,196.49 270.87,196.18 271.86,195.88 272.84,195.58 273.83,195.28 274.81,194.97 275.79,194.66 276.78,194.35 277.76,194.04 278.75,193.74 279.73,193.43 280.72,193.13 281.7,192.83 282.69,192.53 283.67,192.23 284.66,191.94 285.64,191.65 286.63,191.36 287.61,191.07 288.6,190.79 289.58,190.5 290.57,190.22 291.55,189.94 292.54,189.65 293.52,189.36 294.51,189.07 295.49,188.78 296.48,188.5 297.46,188.22 298.45,187.95 299.43,187.68 300.42,187.42 301.4,187.17 302.39,186.92 303.37,186.69 304.36,186.47 305.34,186.27 306.33,186.06 307.31,185.86 308.3,185.67 309.28,185.48 310.27,185.3 311.25,185.12 312.24,184.94 313.22,184.76 314.21,184.59 315.19,184.43 316.17,184.27 317.16,184.1 318.14,183.95 319.13,183.79 320.11,183.64 321.1,183.49 322.08,183.35 323.07,183.2 324.05,183.06 325.04,182.92 326.02,182.78 327.01,182.64 327.99,182.5 328.98,182.36 329.96,182.22 330.95,182.08 331.93,181.95 332.92,181.82 333.9,181.69 334.89,181.57 335.87,181.46 336.86,181.37 337.84,181.28 338.83,181.21 339.81,181.15 340.8,181.09 341.78,181.03 342.77,180.97 343.75,180.92 344.74,180.86 345.72,180.81 346.71,180.77 347.69,180.73 348.68,180.69 349.66,180.66 350.65,180.63 351.63,180.62 352.62,180.6 353.6,180.6" fill="none" stroke="#2040f4" stroke-width="1.2" stroke-linejoin="round" stroke-linecap="round"/>
<line x1="234.2" y1="173.6" x2="245.3" y2="173.6" stroke="#fc0c18" stroke-width="1.2"/>
<text font-size="7.5" text-anchor="start" fill="#000" font-weight="bold" transform="translate(245.5 175.8)" textLength="27.1" lengthAdjust="spacingAndGlyphs" stroke="#000" stroke-width="0.24">Cdhy-QS</text>
<line x1="234.2" y1="182.3" x2="245.3" y2="182.3" stroke="#2040f4" stroke-width="1.2"/>
<text font-size="7.5" text-anchor="start" fill="#000" font-weight="bold" transform="translate(245.5 184.5)" textLength="26" lengthAdjust="spacingAndGlyphs" stroke="#000" stroke-width="0.24">Cdhy-np</text>
</svg></body></html>
